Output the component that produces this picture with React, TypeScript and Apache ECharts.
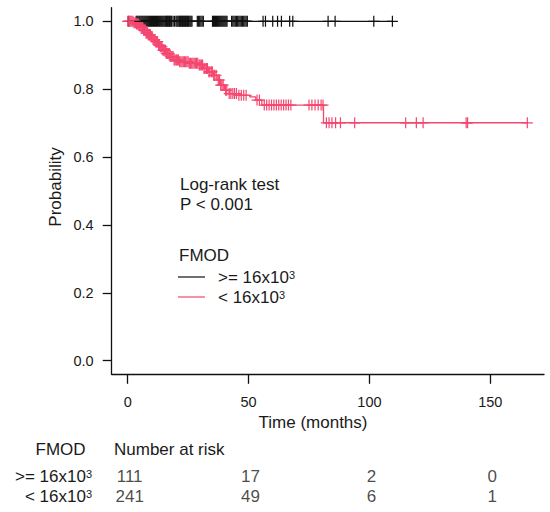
import { useEffect, useRef } from 'react';
import * as echarts from 'echarts';

const FONT = "'Liberation Sans', Arial, sans-serif";
const TXT = '#1a1a1a';
const BLACK = '#111111';
const PINK = '#f4476f';

// Kaplan-Meier steps, group >= 16x10^3 (no events)
const highTimes = [0];
const highSurv = [1.0];
const highLast = 109.5;
const highCensor = [
    0.5, 3.5, 3.9, 4.3, 4.7, 5.1, 5.5, 5.9, 6.3, 6.7, 7.1, 7.5, 7.9, 8.3, 8.7, 9.1, 9.5, 9.9, 10.3,
    10.7, 11.1, 11.5, 11.9, 12.3, 12.7, 13.1, 13.5, 13.9, 14.3, 14.7, 15.1, 15.5, 15.8, 16.1, 16.4,
    16.7, 17, 17.3, 17.6, 17.9, 18.2, 18.8, 19.4, 20, 20.4, 20.8, 21.2, 21.5, 21.8, 22.1, 22.4,
    22.7, 23, 23.3, 23.6, 23.9, 24.2, 24.5, 24.8, 25.1, 25.4, 25.8, 26.2, 26.6, 28.8, 29.3, 29.8,
    30.3, 30.8, 31.3, 35.1, 35.5, 35.9, 36.3, 36.7, 37.1, 37.5, 37.9, 38.3, 38.7, 39.1, 39.5, 39.9,
    40.3, 40.7, 41.1, 43, 43.5, 44, 44.5, 45, 45.5, 46, 46.5, 47, 47.5, 48, 48.5, 49, 49.5,
    56, 57, 60, 62, 63.6, 67, 68.3, 82.9, 85.8, 101.8, 109.5,
];

// group < 16x10^3
const lowTimes = [
    0, 2.5, 3.5, 4.5, 5.5, 6.5, 7.5, 8.5, 9.5, 10.5, 11.5, 12.5, 13.5, 14.5, 16, 17.5, 19, 21.5,
    25.5, 29.5, 31.5, 33.5, 35.5, 37, 38.5, 40, 42, 46, 50.5, 53, 55.5, 81,
];
const lowSurv = [
    1.0, 0.996, 0.992, 0.987, 0.983, 0.974, 0.965, 0.96, 0.955, 0.946, 0.94, 0.93, 0.925, 0.915,
    0.905, 0.896, 0.886, 0.881, 0.876, 0.871, 0.861, 0.851, 0.841, 0.827, 0.812, 0.797, 0.787,
    0.782, 0.777, 0.768, 0.753, 0.701,
];
const lowLast = 165.3;
const lowCensor = [
    0, 0.6, 1, 1.4, 1.8, 2.2, 2.6, 3, 3.3, 3.7, 4, 4.4, 4.8, 5.1, 5.5, 5.9, 6.2, 6.6, 7, 7.3, 7.6,
    8, 8.3, 8.7, 9, 9.4, 9.8, 10.1, 10.5, 10.9, 11.2, 11.6, 12, 12.4, 12.8, 13.1, 13.5, 13.9, 14.2,
    14.6, 15, 15.3, 15.7, 16, 16.4, 16.8, 17.2, 17.6, 18, 18.4, 18.8, 19.2, 19.6, 20, 20.3, 20.7,
    21, 21.5, 22, 22.5, 23, 23.5, 24, 24.5, 25, 25.5, 26, 26.5, 27, 27.5, 28, 28.5, 29, 29.6, 30,
    30.5, 31, 31.6, 32, 32.6, 33, 33.6, 34, 34.6, 35, 35.6, 36, 36.6, 37.5, 38, 38.5, 39, 39.5,
    40.5, 41, 42, 42.7, 43.5, 44.2, 45, 46, 47, 48, 49, 53.5, 54.5, 56.5, 57.5, 58.5, 59.5, 60.5,
    61.5, 62.5, 63.5, 64.5, 65.5, 66.5, 67.5, 75, 76.2, 77.5, 78.8, 80, 80.8, 82.2, 83.3, 84.5, 86,
    88, 93.9, 115, 119.4, 122.2, 140, 140.6, 165.3,
];

const xTicks = [0, 50, 100, 150];
const yTicks = [0, 0.2, 0.4, 0.6, 0.8, 1.0];
const riskTimes = [0, 50, 100, 150];
const riskHigh = [111, 17, 2, 0];
const riskLow = [241, 49, 6, 1];

const PLUS = 'path://M4.45,0H5.55V4.45H10V5.55H5.55V10H4.45V5.55H0V4.45H4.45Z';

function survAt(times: number[], surv: number[], t: number) {
    let s = surv[0];
    for (let i = 0; i < times.length; i++) {
        if (times[i] <= t) s = surv[i];
    }
    return s;
}

function stepData(times: number[], surv: number[], last: number) {
    const pts = times.map((t, i) => [t, surv[i]]);
    pts.push([last, surv[surv.length - 1]]);
    return pts;
}

const text = (x: number, y: number, t: string, align = 'left', extra: any = {}) => ({
    type: 'text',
    x,
    y,
    silent: true,
    style: {
        text: t,
        fill: TXT,
        font: `17px ${FONT}`,
        lineHeight: 16,
        align,
        verticalAlign: 'middle',
        rich: { s: { fontSize: 11, fontFamily: FONT, fill: TXT, lineHeight: 16, verticalAlign: 'top' } },
        ...extra,
    },
});

export default function App() {
    const chartRef = useRef<HTMLDivElement>(null);

    useEffect(() => {
        if (!chartRef.current) return;
        const chart = echarts.init(chartRef.current, null, { renderer: 'svg' });

        const axisLine = { show: true, onZero: false, lineStyle: { color: BLACK, width: 1.3 } };
        const axisLabelBase = { color: TXT, fontSize: 14.5, fontFamily: FONT };

        const option: any = {
            animation: false,
            grid: [
                { left: 111.7, right: 6, top: 7.7, bottom: 137.7 },
                { left: 111.7, right: 6, top: 476.5, height: 20 },
            ],
            xAxis: [
                {
                    type: 'value',
                    gridIndex: 0,
                    min: -6.6,
                    max: 172.2,
                    axisLine,
                    splitLine: { show: false },
                    axisTick: { show: true, customValues: xTicks, length: 9.5, lineStyle: { color: BLACK, width: 1.3 } },
                    axisLabel: { ...axisLabelBase, customValues: xTicks, margin: 20 },
                },
                { type: 'value', gridIndex: 1, min: -6.6, max: 172.2, show: false },
            ],
            yAxis: [
                {
                    type: 'value',
                    gridIndex: 0,
                    min: -0.04,
                    max: 1.04,
                    axisLine,
                    splitLine: { show: false },
                    axisTick: { show: true, customValues: yTicks, length: 9, lineStyle: { color: BLACK, width: 1.3 } },
                    axisLabel: {
                        ...axisLabelBase,
                        customValues: yTicks,
                        margin: 18,
                        formatter: (v: number) => v.toFixed(1),
                    },
                },
                { type: 'value', gridIndex: 1, min: 0, max: 1, show: false },
            ],
            series: [
                {
                    name: '>= 16x10^3',
                    type: 'line',
                    step: 'end',
                    showSymbol: false,
                    silent: true,
                    data: stepData(highTimes, highSurv, highLast),
                    lineStyle: { color: BLACK, width: 1.3 },
                },
                {
                    type: 'scatter',
                    silent: true,
                    symbol: PLUS,
                    symbolSize: 11,
                    itemStyle: { color: BLACK, opacity: 1 },
                    data: highCensor.map((t) => [t, survAt(highTimes, highSurv, t)]),
                },
                {
                    name: '< 16x10^3',
                    type: 'line',
                    step: 'end',
                    showSymbol: false,
                    silent: true,
                    data: stepData(lowTimes, lowSurv, lowLast),
                    lineStyle: { color: PINK, width: 1.3 },
                },
                {
                    type: 'scatter',
                    silent: true,
                    symbol: PLUS,
                    symbolSize: 11,
                    itemStyle: { color: PINK, opacity: 1 },
                    data: lowCensor.map((t) => [t, survAt(lowTimes, lowSurv, t)]),
                },
                ...[
                    { vals: riskHigh, row: 1 },
                    { vals: riskLow, row: 0 },
                ].map((r) => ({
                    type: 'scatter',
                    xAxisIndex: 1,
                    yAxisIndex: 1,
                    silent: true,
                    symbolSize: 1,
                    itemStyle: { color: 'rgba(0,0,0,0)' },
                    data: riskTimes.map((t, i) => [t, r.row, r.vals[i]]),
                    label: {
                        show: true,
                        position: 'inside',
                        offset: [2, 0],
                        formatter: (p: any) => String(p.value[2]),
                        color: TXT,
                        fontSize: 17,
                        lineHeight: 16,
                        fontFamily: FONT,
                    },
                })),
            ],
            graphic: [
                text(55, 187, 'Probability', 'center', {}),
                text(313, 422, 'Time (months)', 'center'),
                text(180, 184.5, 'Log-rank test'),
                text(180, 204.5, 'P < 0.001'),
                text(179, 255, 'FMOD'),
                {
                    type: 'line',
                    silent: true,
                    shape: { x1: 178, y1: 277, x2: 205, y2: 277 },
                    style: { stroke: BLACK, lineWidth: 1.2 },
                },
                {
                    type: 'line',
                    silent: true,
                    shape: { x1: 178, y1: 297, x2: 205, y2: 297 },
                    style: { stroke: PINK, lineWidth: 1.2 },
                },
                text(218, 277, '>= 16x10{s|3}'),
                text(218, 297, '< 16x10{s|3}'),
                text(35.5, 449, 'FMOD'),
                text(114, 449, 'Number at risk'),
                text(92, 476.5, '>= 16x10{s|3}', 'right'),
                text(92, 496.5, '< 16x10{s|3}', 'right'),
            ],
        };
        // rotate the y axis title
        option.graphic[0].rotation = Math.PI / 2;

        chart.setOption(option);
        return () => chart.dispose();
    }, []);

    return (
        <div
            ref={chartRef}
            style={{ position: 'absolute', left: 0, top: 0, width: 550, height: 512, background: '#fff' }}
        />
    );
}
